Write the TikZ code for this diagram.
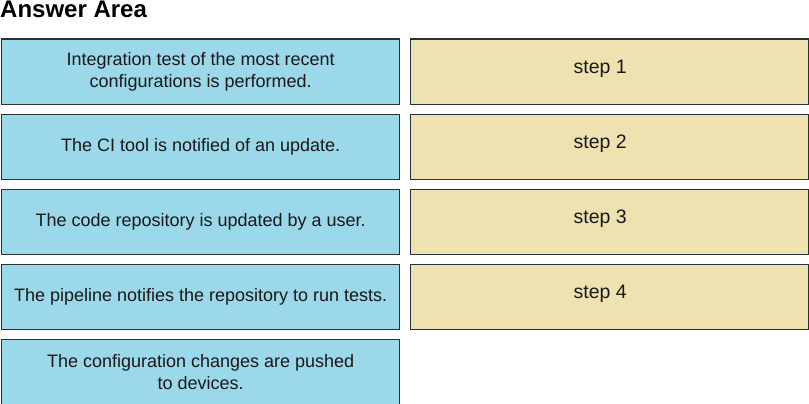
\documentclass[tikz,border=0pt]{standalone}
\usepackage{fontspec}
\setmainfont{Liberation Sans}
\definecolor{cardblue}{RGB}{155,216,234}
\definecolor{cardtan}{RGB}{238,226,176}
\definecolor{cardedge}{RGB}{40,50,55}
\definecolor{cardtext}{RGB}{25,25,25}
\tikzset{
  card/.style={draw=cardedge, line width=1.3pt, minimum width=398pt, minimum height=65pt,
    inner sep=0pt, align=center, text=cardtext, font=\fontsize{18}{22}\selectfont, anchor=north west},
  srcbox/.style={card, fill=cardblue},
  slotbox/.style={card, fill=cardtan, text height=13pt, text depth=9pt, font=\fontsize{19.5}{23}\selectfont},
}
\newcommand{\slotlabel}[1]{#1\hspace*{18pt}}
\begin{document}
\begin{tikzpicture}[x=1pt,y=-1pt]
\useasboundingbox (0,0) rectangle (809,404);
\node[anchor=base west, inner sep=0pt, font=\bfseries\fontsize{24}{28}\selectfont] (title) at (0,17.5) {Answer Area};
\node[srcbox] (s1) at (1,38.5) {Integration test of the most recent\\configurations is performed.};
\node[srcbox] (s2) at (1,113.5) {The CI tool is notified of an update.};
\node[srcbox] (s3) at (1,188.5) {The code repository is updated by a user.};
\node[srcbox] (s4) at (1,263.5) {The pipeline notifies the repository to run tests.};
\node[srcbox] (s5) at (1,338.5) {The configuration changes are pushed\\to devices.};
\node[slotbox] (t1) at (409.5,38.5) {\slotlabel{step 1}};
\node[slotbox] (t2) at (409.5,113.5) {\slotlabel{step 2}};
\node[slotbox] (t3) at (409.5,188.5) {\slotlabel{step 3}};
\node[slotbox] (t4) at (409.5,263.5) {\slotlabel{step 4}};
\end{tikzpicture}
\end{document}
